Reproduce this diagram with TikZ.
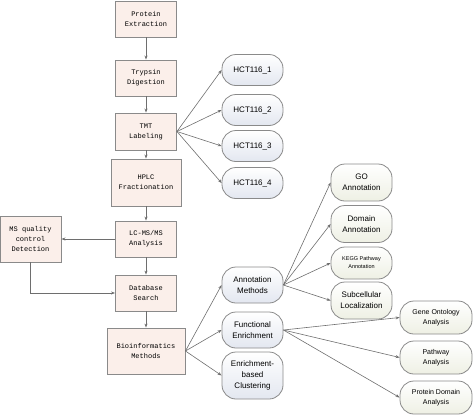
\documentclass[tikz,border=0pt]{standalone}
\usepackage{fontspec}
\setmainfont{Liberation Sans}
\newfontfamily\stepfont{Liberation Mono}
\usetikzlibrary{arrows.meta}
\definecolor{boxpink}{HTML}{FBEFEA}
\definecolor{boxline}{HTML}{8A8A8A}
\definecolor{ovalblue}{HTML}{E3E7F0}
\definecolor{ovalgreen}{HTML}{EEF0E4}
\definecolor{linkgray}{HTML}{6E6E6E}
\begin{document}
\begin{tikzpicture}[x=1pt,y=-1pt,
  stepbox/.style n args={2}{rectangle,draw=boxline,line width=0.9pt,fill=boxpink,
     minimum width=#1pt,minimum height=#2pt,align=center,inner sep=1pt,
     font=\stepfont\fontsize{7}{10}\selectfont},
  oval/.style n args={3}{rectangle,rounded corners=14pt,draw=boxline,line width=0.8pt,
     top color=white,bottom color=#1,minimum width=#2pt,minimum height=#3pt,
     align=center,inner sep=1pt,font=\fontsize{8}{11}\selectfont},
  link/.style={draw=linkgray,line width=0.6pt,-{Stealth[length=4pt,width=3pt]}}]
\useasboundingbox (0,0) rectangle (474,416);
% main workflow
\node[stepbox={61}{36}] (extract) at (146,19) {Protein\\Extraction};
\node[stepbox={61}{36}] (digest) at (146,78) {Trypsin\\Digestion};
\node[stepbox={61}{37}] (tmt) at (146,131.5) {TMT\\Labeling};
\node[stepbox={70}{47}] (hplc) at (146,182.5) {HPLC\\Fractionation};
\node[stepbox={61}{36}] (lcms) at (146,239) {LC-MS/MS\\Analysis};
\node[stepbox={61}{46}] (msqc) at (30.5,239) {MS quality\\control\\Detection};
\node[stepbox={61}{36}] (dbsearch) at (146,293) {Database\\Search};
\node[stepbox={78}{46}] (bioinfo) at (146,351) {Bioinformatics\\Methods};
\foreach \a/\b in {extract/digest,digest/tmt,tmt/hplc,hplc/lcms,lcms/dbsearch,dbsearch/bioinfo}
  \draw[link] (\a) -- (\b);
\draw[link] (lcms) -- (msqc);
\draw[link] (msqc.south) |- (dbsearch.west);
% labelled samples
\foreach \i/\y in {1/70,2/110,3/146,4/183} {
  \node[oval={ovalblue}{61}{31}] (hct\i) at (252.5,\y) {HCT116\_\i};
  \draw[link] (tmt.east) -- (hct\i.west);
}
% bioinformatics branches
\node[oval={ovalblue}{61}{36}] (annot) at (252.5,285) {Annotation\\Methods};
\node[oval={ovalblue}{61}{36}] (funcenr) at (252.5,330) {Functional\\Enrichment};
\node[oval={ovalblue}{61}{47}] (cluster) at (252.5,375.5) {Enrichment-\\based\\Clustering};
\foreach \n in {annot,funcenr,cluster}
  \draw[link] (bioinfo.east) -- (\n.west);
% annotation
\node[oval={ovalgreen}{61}{37}] (goannot) at (361.5,182.5) {GO\\Annotation};
\node[oval={ovalgreen}{61}{37}] (domannot) at (361.5,224) {Domain\\Annotation};
\node[oval={ovalgreen}{61}{32},font=\fontsize{5.5}{8}\selectfont] (kegg) at (361.5,263) {KEGG Pathway\\Annotation};
\node[oval={ovalgreen}{61}{37}] (subcell) at (361.5,300.5) {Subcellular\\Localization};
\foreach \n in {goannot,domannot,kegg,subcell}
  \draw[link] (annot.east) -- (\n.west);
% enrichment
\node[oval={ovalgreen}{72}{33},font=\fontsize{7}{10}\selectfont] (goana) at (436,317.5) {Gene Ontology\\Analysis};
\node[oval={ovalgreen}{72}{33},font=\fontsize{7}{10}\selectfont] (pathana) at (436,357.5) {Pathway\\Analysis};
\node[oval={ovalgreen}{72}{33},font=\fontsize{7}{10}\selectfont] (domana) at (436,397.5) {Protein Domain\\Analysis};
\foreach \n in {goana,pathana,domana}
  \draw[link] (funcenr.east) -- (\n.west);
\end{tikzpicture}
\end{document}
